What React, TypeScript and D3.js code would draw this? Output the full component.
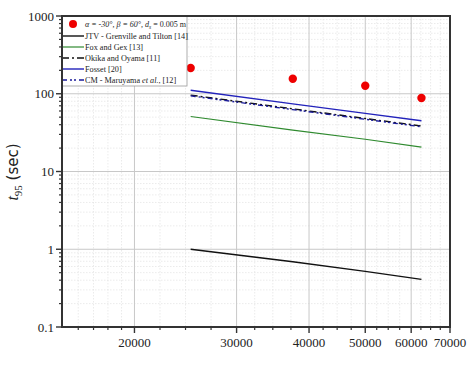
import React from 'react';
import * as d3 from 'd3';

// values
const reynolds = [25000, 37500, 50000, 62500];
const experiment = [214, 156, 127, 88];
const jtv = [1.0, 0.69, 0.52, 0.41];
const foxGex = [51, 34, 26, 20.6];
const okika = [96, 64, 48, 38.5];
const fosset = [111, 74, 56, 45];
const maruyama = [94, 62.5, 47, 37.6];

const xMajor = [20000, 30000, 40000, 50000, 60000, 70000];
const yMajor = [0.1, 1, 10, 100, 1000];

const series = [
  { name: 'JTV - Grenville and Tilton [14]', values: jtv, color: '#111', dash: '', width: 1.4 },
  { name: 'Fox and Gex [13]', values: foxGex, color: '#2f8a2f', dash: '', width: 1.2 },
  { name: 'Okika and Oyama [11]', values: okika, color: '#111', dash: '7,3,2,3', width: 1.4 },
  { name: 'Fosset [20]', values: fosset, color: '#2222bb', dash: '', width: 1.4 },
  { name: 'CM - Maruyama', values: maruyama, color: '#1a1a99', dash: '5,3,2,2,2,3', width: 1.4 },
];

const W = 474, H = 366;
const left = 62, right = 450, top = 16, bottom = 327;

export default function App() {
  const x = d3.scaleLog().domain([15000, 70000]).range([left, right]);
  const y = d3.scaleLog().domain([0.1, 1000]).range([bottom, top]);

  // minor ticks: evenly spaced in log between x majors, and log 2..9 on y
  const xMinor: number[] = [16000, 17000, 18000, 19000];
  for (let i = 0; i < xMajor.length - 1; i++) {
    const a = Math.log10(xMajor[i]), b = Math.log10(xMajor[i + 1]);
    for (let k = 1; k <= 3; k++) xMinor.push(Math.pow(10, a + (b - a) * k / 4));
  }
  const yMinor: number[] = [];
  for (let e = -1; e < 3; e++) for (let m = 2; m <= 9; m++) yMinor.push(m * Math.pow(10, e));

  const line = d3.line<number>()
    .x((d, i) => x(reynolds[i]))
    .y(d => y(d));

  const serif = '"Liberation Serif", "DejaVu Serif", serif';
  const legY = [24, 36, 47, 58, 69, 80];

  return (
    <svg width={W} height={H} style={{ position: 'absolute', left: 0, top: 0, background: '#fff' }}>
      {/* minor grid */}
      {xMinor.map((v, i) => (
        <line key={'xm' + i} x1={x(v)} x2={x(v)} y1={top} y2={bottom} stroke="#ddd" strokeWidth={0.6} strokeDasharray="1.5,1.5" />
      ))}
      {yMinor.map((v, i) => (
        <line key={'ym' + i} x1={left} x2={right} y1={y(v)} y2={y(v)} stroke="#ddd" strokeWidth={0.6} strokeDasharray="1.5,1.5" />
      ))}
      {/* major grid */}
      {xMajor.map(v => (
        <line key={'xg' + v} x1={x(v)} x2={x(v)} y1={top} y2={bottom} stroke="#c8c8c8" strokeWidth={1} />
      ))}
      {yMajor.map(v => (
        <line key={'yg' + v} x1={left} x2={right} y1={y(v)} y2={y(v)} stroke="#c8c8c8" strokeWidth={1} />
      ))}

      {/* model lines */}
      {series.map(s => (
        <path key={s.name} d={line(s.values) || ''} fill="none" stroke={s.color}
          strokeWidth={s.width} strokeDasharray={s.dash} />
      ))}

      {/* experiment points */}
      {experiment.map((v, i) => (
        <circle key={'p' + i} cx={x(reynolds[i])} cy={y(v)} r={4.2} fill="#ee0000" />
      ))}

      {/* legend */}
      <rect x={left} y={top} width={125} height={70} fill="#fff" stroke="#999" strokeWidth={0.8} />
      <circle cx={73} cy={legY[0]} r={4} fill="#ee0000" />
      <text x={85} y={legY[0] + 3} fontFamily={serif} fontSize={8} fill="#222" fontStyle="italic">
        α = -30°, β = 60°, d<tspan fontSize={5.5} dy={2}>s</tspan><tspan dy={-2} fontStyle="normal"> = 0.005 m</tspan>
      </text>
      {series.map((s, i) => (
        <g key={'lg' + i}>
          <line x1={left} x2={84} y1={legY[i + 1]} y2={legY[i + 1]} stroke={s.color} strokeWidth={s.width} strokeDasharray={s.dash} />
          <text x={85} y={legY[i + 1] + 3} fontFamily={serif} fontSize={8.2} fill="#222">
            {i === 4 ? (<>CM - Maruyama <tspan fontStyle="italic">et al.</tspan>, [12]</>) : s.name}
          </text>
        </g>
      ))}

      {/* frame */}
      <rect x={left} y={top} width={right - left} height={bottom - top} fill="none" stroke="#333" strokeWidth={2} />

      {/* y axis ticks */}
      {yMinor.map((v, i) => (
        <line key={'yt' + i} x1={left - 3} x2={left} y1={y(v)} y2={y(v)} stroke="#333" strokeWidth={1.2} />
      ))}
      {yMajor.map(v => (
        <g key={'yl' + v}>
          <line x1={left - 6} x2={left} y1={y(v)} y2={y(v)} stroke="#333" strokeWidth={1.4} />
          <text x={left - 8} y={y(v) + 4.5} textAnchor="end" fontFamily={serif} fontSize={13} fill="#222">{String(v)}</text>
        </g>
      ))}

      {/* x axis ticks */}
      {xMinor.map((v, i) => (
        <line key={'xt' + i} x1={x(v)} x2={x(v)} y1={bottom} y2={bottom + 3} stroke="#333" strokeWidth={1.2} />
      ))}
      {xMajor.map(v => (
        <g key={'xl' + v}>
          <line x1={x(v)} x2={x(v)} y1={bottom} y2={bottom + 6} stroke="#333" strokeWidth={1.4} />
          <text x={x(v)} y={bottom + 20} textAnchor="middle" fontFamily={serif} fontSize={13} fill="#222">{String(v)}</text>
        </g>
      ))}

      {/* y label */}
      <text transform="translate(18,172) rotate(-90)" textAnchor="middle" fontSize={15} fill="#222"
        fontFamily='"DejaVu Sans", sans-serif'>
        <tspan fontFamily={serif} fontStyle="italic" fontSize={16}>t</tspan>
        <tspan fontFamily={serif} fontSize={11} dy={4}>95</tspan>
        <tspan dy={-4}> (sec)</tspan>
      </text>
    </svg>
  );
}
